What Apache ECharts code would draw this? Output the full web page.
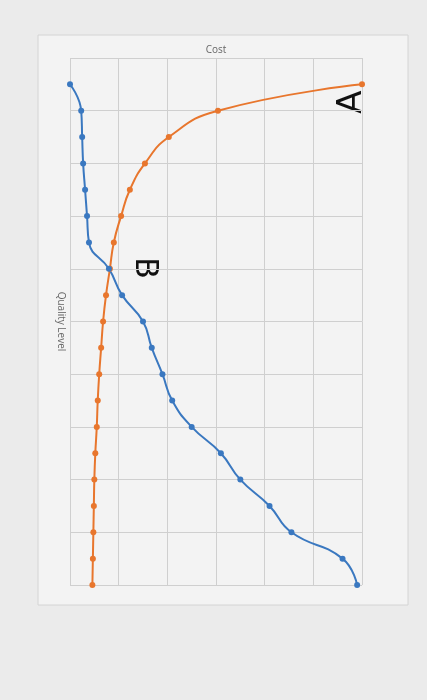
<!DOCTYPE html>
<html>
<head>
<meta charset="utf-8">
<script src="https://cdn.jsdelivr.net/npm/echarts@6/dist/echarts.min.js"></script>
<style>
  html, body { margin: 0; padding: 0; background: #e9e9e9; }
  #chart { width: 427px; height: 700px; }
</style>
</head>
<body>
<div id="chart"></div>
<script>
const levels = [1, 2, 3, 4, 5, 6, 7, 8, 9, 10, 11, 12, 13, 14, 15, 16, 17, 18, 19, 20];
const costA = [6.0, 3.04, 2.03, 1.54, 1.23, 1.05, 0.9, 0.82, 0.74, 0.68, 0.64, 0.6, 0.57, 0.55, 0.52, 0.5, 0.49, 0.48, 0.47, 0.46];
const costB = [0.0, 0.23, 0.25, 0.27, 0.31, 0.35, 0.39, 0.8, 1.07, 1.5, 1.68, 1.9, 2.1, 2.5, 3.1, 3.5, 4.1, 4.55, 5.6, 5.9];

const chart = echarts.init(document.getElementById("chart"));

const gridLine = { lineStyle: { color: "#cfcfcf", width: 1 } };

function series(values, color) {
  return {
    type: "line",
    data: values.map((v, i) => [v, levels[i]]),
    smooth: true,
    symbol: "circle",
    symbolSize: 6,
    lineStyle: { width: 2, color },
    itemStyle: { color }
  };
}

chart.setOption({
  backgroundColor: "#ebebeb",
  textStyle: { fontFamily: "Open Sans, sans-serif" },
  grid: { left: 70, right: 65, top: 58, bottom: 115 },
  xAxis: {
    type: "value",
    min: 0,
    max: 6,
    interval: 1,
    position: "top",
    name: "Cost",
    nameLocation: "middle",
    nameGap: 3,
    nameTextStyle: { color: "#666", fontSize: 10 },
    axisLabel: { show: false },
    axisLine: { show: false },
    axisTick: { show: false },
    splitLine: gridLine
  },
  yAxis: {
    type: "value",
    min: 0,
    max: 20,
    interval: 2,
    inverse: true,
    name: "Quality Level",
    nameLocation: "middle",
    nameRotate: -90,
    nameGap: 4,
    nameTextStyle: { color: "#666", fontSize: 10 },
    axisLabel: { show: false },
    axisLine: { show: false },
    axisTick: { show: false },
    splitLine: gridLine
  },
  series: [series(costA, "#e8762d"), series(costB, "#3a78c0")],
  graphic: [
    {
      type: "rect",
      shape: { x: 38, y: 35, width: 370, height: 570 },
      style: { fill: "#f3f3f3", stroke: "#d4d4d4", lineWidth: 1 },
      z: -10
    },
    {
      type: "text",
      x: 352, y: 102,
      rotation: Math.PI / 2,
      style: { text: "A", font: "34px DejaVu Sans", fill: "#111", align: "center", verticalAlign: "middle" }
    },
    {
      type: "text",
      x: 144, y: 268,
      rotation: -Math.PI / 2,
      style: { text: "B", font: "32px DejaVu Sans", fill: "#111", align: "center", verticalAlign: "middle" }
    }
  ]
});
</script>
</body>
</html>
